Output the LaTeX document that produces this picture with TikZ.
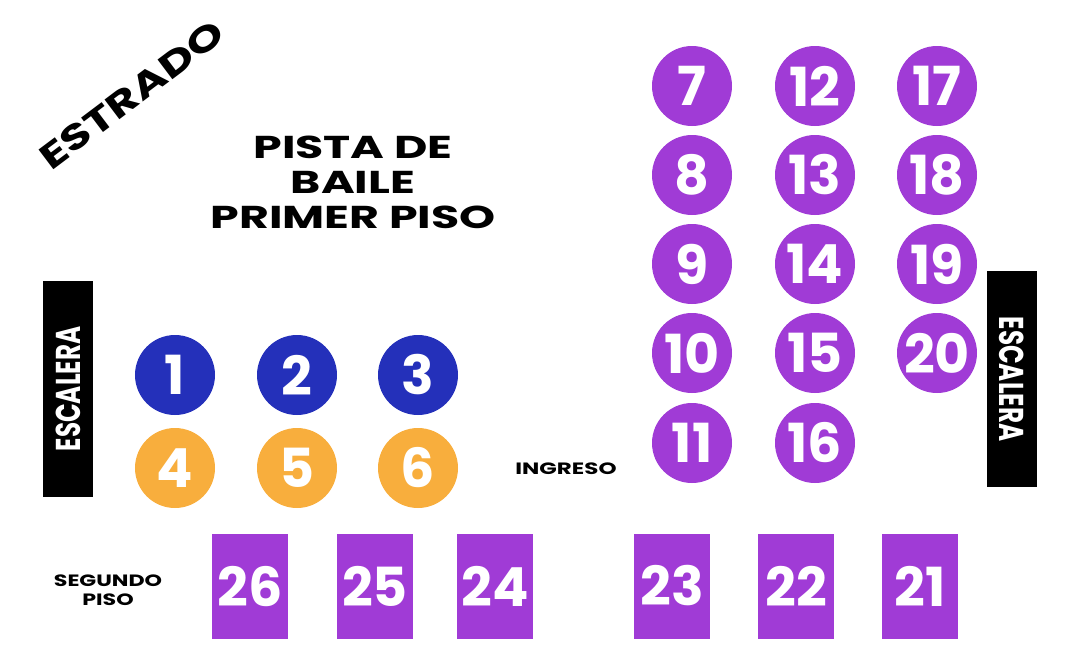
\documentclass[tikz,border=0pt]{standalone}
\usepackage{fontspec}
\setmainfont{Poppins}[BoldFont={Poppins Bold}]
\definecolor{purp}{HTML}{A03BD6}
\definecolor{blu}{HTML}{2430BA}
\definecolor{ora}{HTML}{F8AE3D}
\begin{document}
\begin{tikzpicture}[x=0.03cm,y=-0.03cm,
 tab/.style={circle,minimum size=2.4cm,inner sep=0,text=white,font=\bfseries\fontsize{46}{46}\selectfont},
 sq/.style={fill=purp,minimum width=2.3cm,minimum height=3.15cm,inner sep=0,text=white,font=\bfseries\fontsize{46}{46}\selectfont},
 esc/.style={fill=black,minimum width=1.5cm,minimum height=6.5cm,inner sep=0},
 esct/.style={text=white,font=\bfseries\fontsize{21}{21}\selectfont,xscale=1.4},
 lab/.style={font=\bfseries\fontsize{27}{30}\selectfont,align=center,xscale=1.45}]
\useasboundingbox (0,0) rectangle (1080,667);
\foreach \n/\x/\y in {7/692/86,8/692/175,9/692/264,10/692/353,11/692/443,
 12/815/86,13/815/175,14/815/264,15/815/353,16/815/443,
 17/937/86,18/937/175,19/937/264,20/937/353}
 \node[tab,fill=purp] (t\n) at (\x,\y) {\n};
\foreach \n/\x in {1/175,2/297,3/418} \node[tab,fill=blu] (t\n) at (\x,375) {\n};
\foreach \n/\x in {4/175,5/297,6/418} \node[tab,fill=ora] (t\n) at (\x,468) {\n};
\foreach \n/\x in {26/250,25/375,24/495,23/672,22/796,21/920}
 \node[sq] (s\n) at (\x,586) {\n};
\node[esc] (el) at (68,389) {};
\node[esct,rotate=90] (elt) at (el) {ESCALERA};
\node[esc] (er) at (1012,379) {};
\node[esct,rotate=-90] (ert) at (er) {ESCALERA};
\node[font=\bfseries\fontsize{30}{30}\selectfont,rotate=37,xscale=1.35] (est) at (132,95) {ESTRADO};
\node[lab] (pista) at (353,182) {PISTA DE\\BAILE\\PRIMER PISO};
\node[font=\bfseries\fontsize{14}{14}\selectfont,xscale=1.4] (ing) at (566,469) {INGRESO};
\node[font=\bfseries\fontsize{14}{16}\selectfont,align=center,xscale=1.35] (seg) at (108,590) {SEGUNDO\\PISO};
\end{tikzpicture}
\end{document}
